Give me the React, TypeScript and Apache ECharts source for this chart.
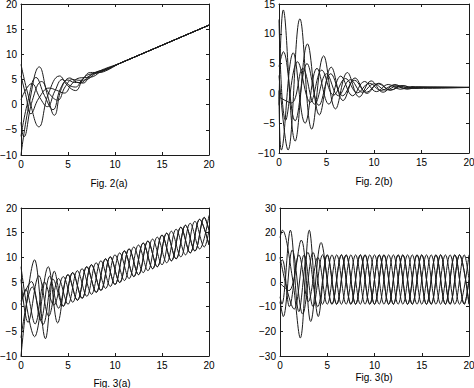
import React, { useEffect, useRef } from "react";
import * as echarts from "echarts";

// ---------- Fig. 2(a): positions converging to a rising line ----------
const FIG2A_C1 = [[0,8],[0.95,0.6],[1.9,-4.4],[2.9,2.1],[4.1,5.7],[4.95,3.8],[5.8,2.8],[6.6,5.1],[7.4,6.4],[8.2,6.4],[9.0,6.7],[10.5,8.2],[12,9.4],[20,15.8]];
const FIG2A_C2 = [[0,-10],[0.9,0.5],[1.95,7.5],[2.8,2.0],[3.55,-2.1],[4.3,3.2],[5.2,5.3],[5.9,4.5],[6.6,4.3],[7.3,5.6],[8.0,6.5],[9.0,7.0],[10.5,8.2],[12,9.4],[20,15.8]];
const FIG2A_C3 = [[0,5.7],[0.5,2.0],[1.05,-1.8],[1.9,1.3],[3.0,3.3],[3.8,2.85],[4.6,2.3],[5.4,4.1],[6.2,5.3],[7.0,5.4],[7.7,5.6],[8.5,6.6],[10.5,8.2],[12,9.4],[20,15.8]];
const FIG2A_C4 = [[0,-3.5],[0.3,-6.4],[1.2,0.8],[2.2,4.6],[3.0,2.2],[3.9,0.9],[4.7,3.55],[5.5,5.0],[6.3,4.84],[7.0,5.0],[7.8,6.05],[8.6,6.9],[10.5,8.2],[12,9.4],[20,15.8]];
const FIG2A_C5 = [[0,1.0],[1.15,4.2],[2.0,1.4],[2.8,-0.4],[3.6,2.7],[4.4,5.0],[5.1,3.9],[5.8,3.5],[6.5,5.0],[7.2,6.0],[8.0,6.2],[8.8,6.7],[10.5,8.2],[12,9.4],[20,15.8]];
const FIG2A_C6 = [[0,-6.3],[0.7,0.4],[1.6,5.4],[2.5,1.8],[3.4,-1.0],[4.2,3.2],[5.0,4.9],[5.7,4.4],[6.4,4.4],[7.1,5.5],[7.8,6.3],[8.6,6.7],[10.5,8.2],[12,9.4],[20,15.8]];

// ---------- Fig. 2(b): velocities converging to a constant ----------
const FIG2B_C1 = [[0,-2],[0.45,14],[1.7,-8.0],[3.0,8.3],[4.25,-3.6],[5.5,4.4],[6.75,-1.2],[8.0,2.6],[9.25,0.0],[10.5,1.7],[11.75,0.55],[13.0,1.3],[14.3,0.85],[15.6,1.05],[20,1]];
const FIG2B_C2 = [[0,0.5],[0.25,-9.5],[1.5,6.8],[2.75,-5.0],[4.0,4.2],[5.25,-1.8],[6.5,2.9],[7.75,-0.4],[9.0,2.0],[10.25,0.3],[11.5,1.5],[12.75,0.7],[14.0,1.15],[15.3,0.95],[20,1]];
const FIG2B_C3 = [[0,3],[0.95,-9.5],[2.2,12.5],[3.45,-6.0],[4.7,6.3],[5.95,-2.6],[7.2,3.5],[8.45,-0.6],[9.7,2.1],[10.95,0.2],[12.2,1.5],[13.45,0.7],[14.7,1.1],[16,0.97],[20,1]];
const FIG2B_C4 = [[0,-0.6],[1.3,-1.6],[2.5,4.2],[3.75,-1.8],[5.0,3.3],[6.25,-0.4],[7.5,2.3],[8.75,0.2],[10.0,1.6],[11.25,0.55],[12.5,1.3],[13.75,0.85],[15,1.05],[20,1]];
const FIG2B_C5 = [[0,12.4],[0.7,-4.5],[1.95,5.3],[3.3,-1.5],[4.5,3.9],[5.75,-0.3],[7.0,2.5],[8.25,0.1],[9.5,1.7],[10.75,0.5],[12.0,1.3],[13.25,0.85],[14.5,1.05],[20,1]];
const FIG2B_C6 = [[0,4.5],[0.45,7.0],[1.7,-4.6],[2.95,5.0],[4.2,-2.0],[5.45,3.3],[6.7,-0.4],[7.95,2.2],[9.2,0.2],[10.45,1.6],[11.7,0.55],[12.95,1.3],[14.3,0.85],[20,1]];

// ---------- Fig. 3(a): transients, then steady oscillation around a rising line ----------
const FIG3A_T1 = [[0,-10],[1.45,9.5],[2.6,-6.5],[3.55,7.2]];
const FIG3A_T2 = [[0,8.1],[1.45,-6.1],[2.9,8.1],[3.9,-3.3]];
const FIG3A_T3 = [[0,1.1],[1.1,5.1],[2.1,-2.8],[3.05,6.2],[4.0,-0.3]];
const FIG3A_T4 = [[0,5.5],[0.75,-3.2],[1.9,6.3],[2.95,-1.9],[4.0,5.7]];
const FIG3A_T5 = [[0,-6.3],[1.2,4.0],[2.35,-3.6],[3.4,5.6]];
const FIG3A_T6 = [[0,0.4],[0.5,3.5],[1.5,-3.5],[2.5,5.0],[3.5,0.3]];
const FIG3A_STEADY_P0 = [[5,0.5],[6,7.3],[7,2.1],[8,8.9],[9,3.7],[10,10.5],[11,5.3],[12,12.1],[13,6.9],[14,13.7],[15,8.5],[16,15.3],[17,10.1],[18,16.9],[19,11.7],[20,18.5]];
const FIG3A_STEADY_P1 = [[5,6.5],[6,1.3],[7,8.1],[8,2.9],[9,9.7],[10,4.5],[11,11.3],[12,6.1],[13,12.9],[14,7.7],[15,14.5],[16,9.3],[17,16.1],[18,10.9],[19,17.7],[20,12.5]];
const FIG3A_STEADY_P05 = [[4.5,6.1],[5.5,0.9],[6.5,7.7],[7.5,2.5],[8.5,9.3],[9.5,4.1],[10.5,10.9],[11.5,5.7],[12.5,12.5],[13.5,7.3],[14.5,14.1],[15.5,8.9],[16.5,15.7],[17.5,10.5],[18.5,17.3],[19.5,12.1],[20,15.5]];
const FIG3A_STEADY_P15 = [[4.5,0.1],[5.5,6.9],[6.5,1.7],[7.5,8.5],[8.5,3.3],[9.5,10.1],[10.5,4.9],[11.5,11.7],[12.5,6.5],[13.5,13.3],[14.5,8.1],[15.5,14.9],[16.5,9.7],[17.5,16.5],[18.5,11.3],[19.5,18.1],[20,15.5]];

// ---------- Fig. 3(b): transients, then steady oscillation between -9 and 11 ----------
const FIG3B_T1 = [[0,18],[0.25,21],[1.3,2],[2.15,-22.7],[3.1,21],[4.05,-14]];
const FIG3B_T2 = [[0,-0.5],[0.95,-3.5],[2.25,17],[3.25,-16],[4.35,16]];
const FIG3B_T3 = [[0,10],[1.5,-11],[2.55,11],[3.5,-10],[4.5,11]];
const FIG3B_T4 = [[0,-8],[0.35,-14],[1.3,13],[2.4,-13],[3.5,12],[4.5,-9]];
const FIG3B_T5 = [[0,-6],[0.2,-9],[1.1,21],[2.0,-12],[2.95,12],[4.0,-10]];
const FIG3B_T6 = [[0,8],[0.25,9],[1.0,-10],[2.0,11],[3.0,-8],[4.0,10]];
const FIG3B_STEADY_Q0 = [[5,-9],[6,11],[7,-9],[8,11],[9,-9],[10,11],[11,-9],[12,11],[13,-9],[14,11],[15,-9],[16,11],[17,-9],[18,11],[19,-9],[20,11]];
const FIG3B_STEADY_Q1 = [[5,11],[6,-9],[7,11],[8,-9],[9,11],[10,-9],[11,11],[12,-9],[13,11],[14,-9],[15,11],[16,-9],[17,11],[18,-9],[19,11],[20,-9]];
const FIG3B_STEADY_Q05 = [[5.5,-9],[6.5,11],[7.5,-9],[8.5,11],[9.5,-9],[10.5,11],[11.5,-9],[12.5,11],[13.5,-9],[14.5,11],[15.5,-9],[16.5,11],[17.5,-9],[18.5,11],[19.5,-9],[20,1]];
const FIG3B_STEADY_Q15 = [[5.5,11],[6.5,-9],[7.5,11],[8.5,-9],[9.5,11],[10.5,-9],[11.5,11],[12.5,-9],[13.5,11],[14.5,-9],[15.5,11],[16.5,-9],[17.5,11],[18.5,-9],[19.5,11],[20,1]];

// ---------- axes ----------
const X_RANGE = [0, 20, 5];
const Y_RANGES = [
  [-10, 20, 5],
  [-10, 15, 5],
  [-10, 20, 5],
  [-30, 30, 10],
];
const CAPTIONS = ["Fig. 2(a)", "Fig. 2(b)", "Fig. 3(a)", "Fig. 3(b)"];

const FONT = "Liberation Sans, Arial, Helvetica, sans-serif";
const INK = "#1c1c1c";

const GRIDS = [
  { left: 21, top: 4, width: 188, height: 151 },
  { left: 279, top: 4, width: 190, height: 149 },
  { left: 21, top: 208, width: 188, height: 148 },
  { left: 280, top: 208, width: 189, height: 148 },
];
const CAPTION_POS = [
  [109, 183],
  [374, 181],
  [112, 383],
  [374, 377],
];

const fmt = (v: number) => String(v).replace("-", "\u2212");

function buildOption() {
  const xAxis: any[] = [];
  const yAxis: any[] = [];
  GRIDS.forEach((_, i) => {
    const [ymin, ymax, yint] = Y_RANGES[i];
    ["bottom", "top"].forEach((pos, k) => {
      xAxis.push({
        type: "value",
        gridIndex: i,
        position: pos,
        min: X_RANGE[0],
        max: X_RANGE[1],
        interval: X_RANGE[2],
        axisLine: { show: true, onZero: false, lineStyle: { color: INK, width: 1 } },
        axisTick: { show: true, inside: true, length: 3, lineStyle: { color: INK, width: 1 } },
        axisLabel: {
          show: k === 0,
          fontSize: 10,
          fontFamily: FONT,
          color: "#000",
          margin: 4,
          formatter: fmt,
        },
        splitLine: { show: false },
      });
    });
    ["left", "right"].forEach((pos, k) => {
      yAxis.push({
        type: "value",
        gridIndex: i,
        position: pos,
        min: ymin,
        max: ymax,
        interval: yint,
        axisLine: { show: true, onZero: false, lineStyle: { color: INK, width: 1 } },
        axisTick: { show: true, inside: true, length: 3, lineStyle: { color: INK, width: 1 } },
        axisLabel: {
          show: k === 0,
          fontSize: 10,
          fontFamily: FONT,
          color: "#000",
          margin: 4,
          formatter: fmt,
        },
        splitLine: { show: false },
      });
    });
  });

  const panels: [number[][][], number][] = [
    [[FIG2A_C1, FIG2A_C2, FIG2A_C3, FIG2A_C4, FIG2A_C5, FIG2A_C6], 0.45],
    [[FIG2B_C1, FIG2B_C2, FIG2B_C3, FIG2B_C4, FIG2B_C5, FIG2B_C6], 0.4],
    [
      [
        FIG3A_T1.concat(FIG3A_STEADY_P15),
        FIG3A_T2.concat(FIG3A_STEADY_P1),
        FIG3A_T3.concat(FIG3A_STEADY_P1),
        FIG3A_T4.concat(FIG3A_STEADY_P0),
        FIG3A_T5.concat(FIG3A_STEADY_P15),
        FIG3A_T6.concat(FIG3A_STEADY_P05),
      ],
      0.36,
    ],
    [
      [
        FIG3B_T1.concat(FIG3B_STEADY_Q1),
        FIG3B_T2.concat(FIG3B_STEADY_Q05),
        FIG3B_T3.concat(FIG3B_STEADY_Q05),
        FIG3B_T4.concat(FIG3B_STEADY_Q15),
        FIG3B_T5.concat(FIG3B_STEADY_Q1),
        FIG3B_T6.concat(FIG3B_STEADY_Q0),
      ],
      0.36,
    ],
  ];

  const series: any[] = [];
  panels.forEach(([curves, smooth], i) => {
    curves.forEach((c) => {
      series.push({
        type: "line",
        xAxisIndex: i * 2,
        yAxisIndex: i * 2,
        data: c,
        showSymbol: false,
        symbol: "none",
        smooth,
        silent: true,
        clip: true,
        lineStyle: { color: INK, width: 1 },
      });
    });
  });

  const graphic = CAPTIONS.map((t, i) => ({
    type: "text",
    x: CAPTION_POS[i][0],
    y: CAPTION_POS[i][1],
    silent: true,
    style: {
      text: t,
      fill: "#000",
      fontSize: 10,
      fontFamily: FONT,
      align: "center",
      verticalAlign: "middle",
    },
  }));

  return {
    animation: false,
    backgroundColor: "#fff",
    grid: GRIDS.map((g) => ({ ...g, containLabel: false, outerBoundsMode: "none" })),
    xAxis,
    yAxis,
    series,
    graphic,
  };
}

export default function App() {
  const ref = useRef<HTMLDivElement>(null);
  useEffect(() => {
    if (!ref.current) return;
    const chart = echarts.init(ref.current, undefined, { renderer: "svg" });
    chart.setOption(buildOption() as any);
    return () => chart.dispose();
  }, []);
  return (
    <div
      ref={ref}
      style={{ position: "fixed", left: 0, top: 0, width: 474, height: 388, background: "#fff" }}
    />
  );
}
